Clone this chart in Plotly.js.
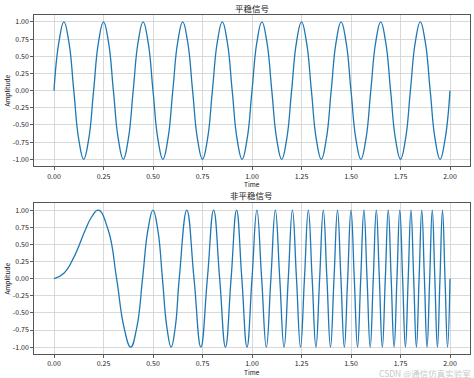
<!DOCTYPE html>
<html>
<head>
<meta charset="utf-8">
<script src="https://cdn.plot.ly/plotly-3.0.1.min.js"></script>
<style>html,body{margin:0;padding:0;background:#fff;}#chart{width:474px;height:378px;}</style>
</head>
<body>
<div id="chart"></div>
<script>
// Stationary signal: points read at eighth-period positions (peaks, zero crossings, mid-slopes)
var timeStationary = [0,0.025,0.05,0.075,0.1,0.125,0.15,0.175,0.2,0.225,0.25,0.275,0.3,0.325,0.35,0.375,0.4,0.425,0.45,0.475,0.5,0.525,0.55,0.575,0.6,0.625,0.65,0.675,0.7,0.725,0.75,0.775,0.8,0.825,0.85,0.875,0.9,0.925,0.95,0.975,1.0,1.025,1.05,1.075,1.1,1.125,1.15,1.175,1.2,1.225,1.25,1.275,1.3,1.325,1.35,1.375,1.4,1.425,1.45,1.475,1.5,1.525,1.55,1.575,1.6,1.625,1.65,1.675,1.7,1.725,1.75,1.775,1.8,1.825,1.85,1.875,1.9,1.925,1.95,1.975,2.0];
var ampStationary = [0,0.71,1,0.71,0,-0.71,-1,-0.71, 0,0.71,1,0.71,0,-0.71,-1,-0.71, 0,0.71,1,0.71,0,-0.71,-1,-0.71, 0,0.71,1,0.71,0,-0.71,-1,-0.71, 0,0.71,1,0.71,0,-0.71,-1,-0.71, 0,0.71,1,0.71,0,-0.71,-1,-0.71, 0,0.71,1,0.71,0,-0.71,-1,-0.71, 0,0.71,1,0.71,0,-0.71,-1,-0.71, 0,0.71,1,0.71,0,-0.71,-1,-0.71, 0,0.71,1,0.71,0,-0.71,-1,-0.71, 0];

// Non-stationary signal: points read at peaks, troughs and zero crossings
var timeChirp = [0,0.05,0.1,0.1581,0.19,0.2236,0.2739,0.3162,0.3536,0.3873,0.4183,0.4472,0.4743,0.5,0.5244,0.5477,0.5701,0.5916,0.6124,0.6325,
  0.6708,0.7071,0.7416,0.7746,0.8062,0.8367,0.8660,0.8944,0.9220,0.9487,0.9747,1.0,
  1.0247,1.0488,1.0724,1.0954,1.1180,1.1402,1.1619,1.1832,1.2042,1.2247,1.2450,1.2649,1.2845,1.3038,1.3229,1.3416,
  1.3601,1.3784,1.3964,1.4142,1.4318,1.4491,1.4663,1.4832,1.5,1.5166,1.5330,1.5492,1.5652,1.5811,1.5969,1.6125,
  1.6279,1.6432,1.6583,1.6733,1.6882,1.7029,1.7176,1.7321,1.7464,1.7607,1.7748,1.7889,1.8028,1.8166,1.8303,1.8439,
  1.8574,1.8708,1.8841,1.8974,1.9105,1.9235,1.9365,1.9494,1.9621,1.9748,1.9875,2.0];
var ampChirp = [0,0.08,0.31,0.71,0.9,1,0.71,0,-0.71,-1,-0.71,0,0.71,1,0.71,0,-0.71,-1,-0.71,0,
  1,0,-1,0,1,0,-1,0,1,0,-1,0,
  1,0,-1,0,1,0,-1,0,1,0,-1,0,1,0,-1,0,
  1,0,-1,0,1,0,-1,0,1,0,-1,0,1,0,-1,0,
  1,0,-1,0,1,0,-1,0,1,0,-1,0,1,0,-1,0,
  1,0,-1,0,1,0,-1,0,1,0,-1,0,0];

var titles = ['平稳信号', '非平稳信号'];
var xLabel = 'Time';
var yLabel = 'Amplitude';
var xTickVals = [0,0.25,0.5,0.75,1.0,1.25,1.5,1.75,2.0];
var xTickText = ['0.00','0.25','0.50','0.75','1.00','1.25','1.50','1.75','2.00'];
var yTickVals = [-1,-0.75,-0.5,-0.25,0,0.25,0.5,0.75,1];
var yTickText = ['-1.00','-0.75','-0.50','-0.25','0.00','0.25','0.50','0.75','1.00'];
var watermark = 'CSDN @通信仿真实验室';

var W = 474, H = 378;
var FONT = '"Noto Sans CJK SC", "Noto Sans", sans-serif';
function px(x){return x/W;}
function py(y){return 1 - y/H;}

var lineStyle = {color:'#1f77b4', width:1.3, shape:'spline', smoothing:1.3};
var traces = [
  {x: timeStationary, y: ampStationary, type:'scatter', mode:'lines', line: lineStyle, xaxis:'x', yaxis:'y', hoverinfo:'skip'},
  {x: timeChirp, y: ampChirp, type:'scatter', mode:'lines', line: lineStyle, xaxis:'x2', yaxis:'y2', hoverinfo:'skip'}
];

function xAxis(anchor){
  return {domain:[px(34.2), px(469.8)], range:[-0.1, 2.1], anchor:anchor,
    tickvals:xTickVals, ticktext:xTickText, ticks:'outside', ticklen:3, tickwidth:0.8, tickcolor:'#333',
    tickfont:{family:FONT, size:7, color:'#222'},
    showgrid:true, gridcolor:'#cfcfcf', gridwidth:0.8, zeroline:false,
    showline:true, mirror:true, linecolor:'#444', linewidth:0.9};
}
function yAxis(anchor, top, bottom){
  return {domain:[py(bottom), py(top)], range:[-1.1, 1.1], anchor:anchor,
    tickvals:yTickVals, ticktext:yTickText, ticks:'outside', ticklen:3, tickwidth:0.8, tickcolor:'#333',
    tickfont:{family:FONT, size:7, color:'#222'},
    showgrid:true, gridcolor:'#cfcfcf', gridwidth:0.8, zeroline:false,
    showline:true, mirror:true, linecolor:'#444', linewidth:0.9};
}

function ann(text, x, y, size, extra){
  var a = {text:text, x:px(x), y:py(y), xref:'paper', yref:'paper', showarrow:false,
    xanchor:'center', yanchor:'middle', font:{family:FONT, size:size, color:'#111'}};
  for (var k in extra) a[k] = extra[k];
  return a;
}

var layout = {
  width: W, height: H, margin:{l:0, r:0, t:0, b:0},
  paper_bgcolor:'#fff', plot_bgcolor:'#fff', showlegend:false,
  xaxis: xAxis('y'), yaxis: yAxis('x', 15.1, 166.2),
  xaxis2: xAxis('y2'), yaxis2: yAxis('x2', 203.3, 354),
  annotations: [
    ann(titles[0], 252, 8, 8.5, {}),
    ann(titles[1], 252, 195, 8.5, {}),
    ann(xLabel, 252, 183.5, 6.5, {}),
    ann(xLabel, 252, 371.5, 6.5, {}),
    ann(yLabel, 7, 90.6, 6.5, {textangle:-90}),
    ann(yLabel, 7, 278.6, 6.5, {textangle:-90}),
    ann(watermark, 472, 380.5, 8.5, {xanchor:'right', yanchor:'bottom', borderpad:0, font:{family:FONT, size:8.5, color:'#c8c8c8'}})
  ]
};

Plotly.newPlot('chart', traces, layout, {staticPlot:true, displayModeBar:false});
</script>
</body>
</html>
